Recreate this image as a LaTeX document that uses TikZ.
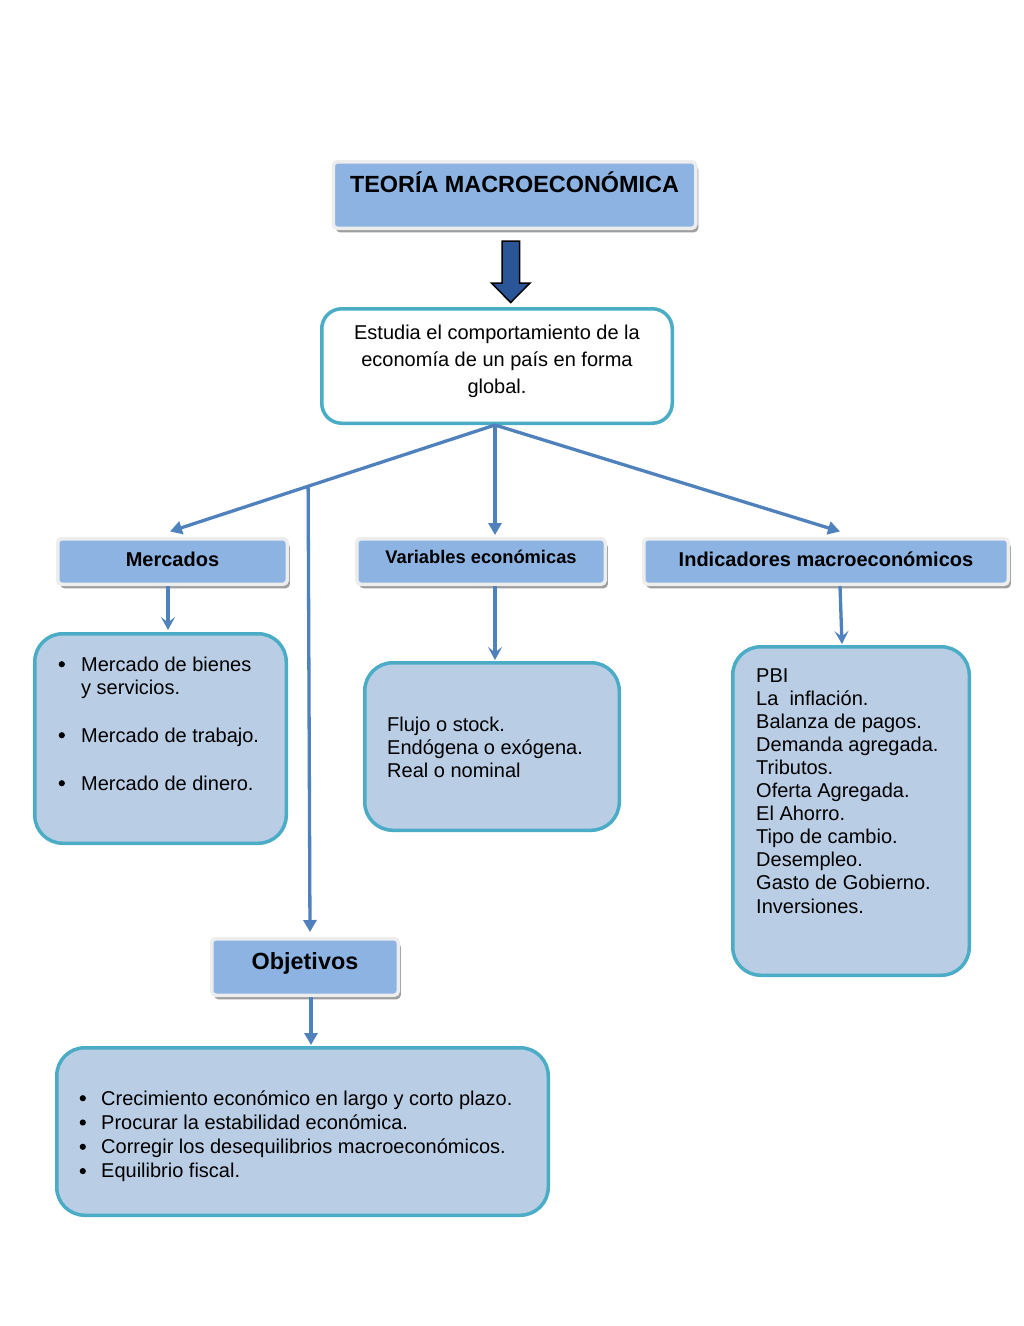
\documentclass[tikz,border=0pt]{standalone}
\usepackage{fontspec}
\setmainfont{Liberation Sans}
\usetikzlibrary{calc,shadows,arrows.meta}
\definecolor{hdrblue}{HTML}{8DB3E2}
\definecolor{listblue}{HTML}{B9CDE5}
\definecolor{tealfive}{HTML}{4BACC6}
\definecolor{linkblue}{HTML}{4F81BD}
\definecolor{navyfill}{HTML}{2A5596}
\definecolor{hdredge}{HTML}{EDEDED}
\newcommand{\mybul}{\hspace{0.5pt}\tikz[baseline=0pt]\fill[black] (3.1pt,6.8pt) circle[radius=3.1pt];}
\tikzset{
 hdr/.style={rectangle, rounded corners=4pt, fill=hdrblue, draw=hdredge, line width=3.5pt,
   drop shadow={shadow xshift=2.5pt, shadow yshift=-4pt, fill=black!38, opacity=1},
   inner sep=0pt, font=\bfseries\fontsize{20}{24}\selectfont},
 listbox/.style={rectangle, rounded corners=28pt, fill=listblue, draw=tealfive, line width=3.5pt, inner sep=0pt},
 body/.style={inner sep=0pt, font=\fontsize{20}{23}\selectfont},
 link/.style={draw=linkblue, line width=3.3pt},
 tri/.style={link, -{Triangle[length=12pt,width=13pt]}},
 barb/.style={link, -{Stealth[length=13pt,width=14pt,inset=5.5pt]}},
}
\begin{document}
\begin{tikzpicture}[x=1pt,y=-1pt]
\fill[white] (0,0) rectangle (1024,1326);
\useasboundingbox (0,0) rectangle (1024,1326);

% title
\node[hdr, minimum width=362.5pt, minimum height=66.5pt,
  font=\bfseries\fontsize{23.4}{28}\selectfont, text height=17pt, text depth=22pt] (title) at (514.5,195) {TEORÍA MACROECONÓMICA};

% block arrow
\draw[fill=navyfill, draw=black, line width=1.5pt, line join=miter]
  ($(title.south)+(-12.5,11)$) -- ++(17.5,0) -- ++(0,42) -- ++(10.5,0) -- ++(-19.3,19.5) -- ++(-19.2,-19.5) -- ++(10.5,0) -- cycle;

% definition box
\node[rectangle, rounded corners=20pt, fill=white, draw=tealfive, line width=3.5pt,
  minimum width=350.5pt, minimum height=114.5pt] (box2) at (497,366) {};
\node[body, anchor=base, font=\fontsize{20}{27}\selectfont] (box2text) at (497,339)
  {\begin{tabular}[t]{@{}c@{}}Estudia el comportamiento de la\\economía de un país en forma\\global.\end{tabular}};

% headers
\node[hdr, minimum width=229.5pt, minimum height=45.5pt, text height=14.5pt, text depth=5pt] (mer) at (172.5,561.5) {Mercados};
\node[hdr, minimum width=248.5pt, minimum height=45.5pt, font=\bfseries\fontsize{18.3}{22}\selectfont,
  text height=13pt, text depth=8.8pt] (var) at (481,561.5) {Variables económicas};
\node[hdr, minimum width=364.5pt, minimum height=45.5pt, text height=14.5pt, text depth=5pt] (ind) at (826,561.5) {Indicadores macroeconómicos};
\node[hdr, minimum width=186.5pt, minimum height=56.5pt, font=\bfseries\fontsize{23.4}{28}\selectfont,
  text height=17pt, text depth=12.2pt] (obj) at (305,967) {Objetivos};

% list boxes
\node[listbox, minimum width=251.5pt, minimum height=209.5pt] (mlist) at (160.5,738.5) {};
\node[listbox, minimum width=254.5pt, minimum height=167.5pt] (vlist) at (492,746.5) {};
\node[listbox, minimum width=236.5pt, minimum height=328.5pt] (ilist) at (851,811) {};
\node[listbox, minimum width=491.5pt, minimum height=167.5pt] (olist) at (302.5,1131.5) {};

% list texts
\node[body, anchor=base west] (mtext) at (58,671)
  {\begin{tabular}[t]{@{}l@{}}
  \makebox[23pt][l]{\mybul}Mercado de bienes\\
  \hspace*{23pt}y servicios.\\[25pt]
  \makebox[23pt][l]{\mybul}Mercado de trabajo.\\[25pt]
  \makebox[23pt][l]{\mybul}Mercado de dinero.
  \end{tabular}};
\node[body, anchor=base west] (vtext) at (387,731)
  {\begin{tabular}[t]{@{}l@{}}Flujo o stock.\\Endógena o exógena.\\Real o nominal\end{tabular}};
\node[body, anchor=base west, font=\fontsize{20}{23.1}\selectfont] (itext) at (756,682)
  {\begin{tabular}[t]{@{}l@{}}PBI\\La\ \ inflación.\\Balanza de pagos.\\Demanda agregada.\\Tributos.\\Oferta Agregada.\\El Ahorro.\\Tipo de cambio.\\Desempleo.\\Gasto de Gobierno.\\Inversiones.\end{tabular}};
\node[body, anchor=base west, font=\fontsize{20}{24.3}\selectfont] (otext) at (79,1105)
  {\begin{tabular}[t]{@{}l@{}}
  \makebox[22pt][l]{\mybul}Crecimiento económico en largo y corto plazo.\\
  \makebox[22pt][l]{\mybul}Procurar la estabilidad económica.\\
  \makebox[22pt][l]{\mybul}Corregir los desequilibrios macroeconómicos.\\
  \makebox[22pt][l]{\mybul}Equilibrio fiscal.
  \end{tabular}};

% connectors
\coordinate (src) at ($(box2.south)+(-2,0)$);
\coordinate (mtip) at ($(mer.north)+(-2.5,-5.5)$);
\coordinate (vtip) at ($(src |- var.north)+(0,-2)$);
\coordinate (itip) at ($(ind.north)+(14,-5.5)$);
\coordinate (split) at ($(src)!0.575!(mtip)$);
\coordinate (otip) at ($(obj.north)+(5,-5)$);
\draw[tri] (src) -- (mtip);
\draw[tri] (src) -- (vtip);
\draw[tri] (src) -- (itip);
\draw[tri] (split) -- (otip);

\coordinate (ms) at ($(mer.south)+(-4.5,0)$);
\coordinate (mt) at ($(ms |- mlist.north)+(0,-2)$);
\draw[barb] (ms) -- (mt);
\coordinate (vs) at ($(var.south)+(14,0)$);
\coordinate (vt) at ($(vs |- vlist.north)+(0,-1)$);
\draw[barb] (vs) -- (vt);
\coordinate (is) at ($(ind.south)+(14,0)$);
\coordinate (it) at ($(ilist.north)+(-9,-1)$);
\draw[barb] (is) -- (it);
\coordinate (os) at ($(obj.south)+(6,0)$);
\coordinate (ot) at ($(os |- olist.north)+(0,-1)$);
\draw[tri] (os) -- (ot);
\end{tikzpicture}
\end{document}
